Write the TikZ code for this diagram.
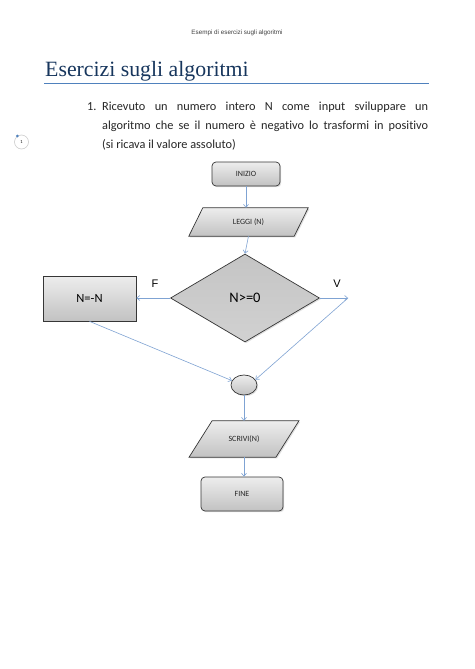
\documentclass[tikz,border=0pt]{standalone}
\usepackage{fontspec}
\setmainfont{Carlito}[Ligatures=NoCommon]
\newfontfamily\arialfont{Liberation Sans}
\newfontfamily\titlefont{Liberation Serif}
\usetikzlibrary{shapes.geometric,arrows.meta,shadows}
\pgfdeclarelayer{background}
\pgfdeclarelayer{paper}
\pgfsetlayers{paper,background,main}
\definecolor{arrowblue}{HTML}{7FA3D3}
\definecolor{rulblue}{HTML}{4F81BD}
\definecolor{titleblue}{HTML}{17365D}
\definecolor{outline}{HTML}{363636}
\definecolor{txtgray}{HTML}{262626}
\begin{document}
\begin{tikzpicture}[x=1pt,y=-1pt,
  flowfill/.style={draw=outline, line width=0.7pt, top color=gray!14, bottom color=gray!48,
    drop shadow={shadow xshift=1.2pt,shadow yshift=-1.2pt,opacity=0.25}},
  flowbox/.style={flowfill, inner sep=0pt, font=\fontsize{8}{9}\selectfont, text=txtgray},
  termbox/.style={flowbox, rectangle, rounded corners=4pt},
  iobox/.style={rectangle, inner sep=0pt, font=\fontsize{8}{9}\selectfont, text=txtgray},
  conn/.style={draw=arrowblue, line width=0.6pt, -{Straight Barb[length=3pt,width=5pt]}},
  bodytext/.style={anchor=base west, inner sep=0pt, font=\fontsize{12.3}{19}\selectfont, text=black!85},
  lab/.style={font=\arialfont\fontsize{11}{12}\selectfont, inner sep=0pt}
]
\useasboundingbox (0,0) rectangle (474,669);
\begin{pgfonlayer}{paper}
  \fill[white] (0,0) rectangle (474,669);
\end{pgfonlayer}

% header and title
\node[font=\arialfont\fontsize{6.3}{7}\selectfont, text=black!75] (header) at (237,33) {Esempi di esercizi sugli algoritmi};
\node[anchor=base west, inner sep=0pt, font=\titlefont\fontsize{21.8}{24}\selectfont, text=titleblue] (title) at (45,77) {Esercizi sugli algoritmi};
\draw[rulblue, line width=0.8pt] (44,83.5) -- (429,83.5);

% margin marker
\node[circle, draw=gray!45, line width=0.5pt, minimum size=14pt, inner sep=0pt, font=\fontsize{4.5}{5}\selectfont] (margin) at (21.5,142) {1};
\fill[rulblue] (margin.125) circle (1.5pt);

% list item
\node[bodytext] (num) at (87,110) {1.};
\node[bodytext] (l1) at (102,110) {\makebox[326pt][s]{Ricevuto un numero intero N come input sviluppare un}};
\node[bodytext] (l2) at (102,129) {\makebox[326pt][s]{algoritmo che se il numero è negativo lo trasformi in positivo}};
\node[bodytext] (l3) at (102,148) {(si ricava il valore assoluto)};

% flowchart
\node[termbox, minimum width=68pt, minimum height=24pt] (inizio) at (246,174) {INIZIO};
\node[iobox, minimum width=105pt, minimum height=28pt] (leggi) at (248.5,222) {LEGGI (N)};
\node[flowbox, diamond, minimum width=149pt, minimum height=88pt, top color=gray!46, bottom color=gray!36,
  font=\fontsize{14.5}{16}\selectfont, text=black] (dec) at (245,298) {N>=0};
\node[flowbox, rectangle, minimum width=93pt, minimum height=45pt, font=\fontsize{12.5}{14}\selectfont, text=black] (nn) at (89.5,298.5) {N=-N};
\node[flowbox, ellipse, minimum width=26pt, minimum height=20pt] (join) at (244,385) {};
\node[iobox, minimum width=86.5pt, minimum height=36pt] (scrivi) at (244,439) {SCRIVI(N)};
\node[termbox, minimum width=82pt, minimum height=34pt] (fine) at (242,494) {FINE};

\begin{pgfonlayer}{background}
  \path[flowfill] ([xshift=7pt]leggi.north west) -- ([xshift=7pt]leggi.north east)
    -- ([xshift=-7pt]leggi.south east) -- ([xshift=-7pt]leggi.south west) -- cycle;
  \path[flowfill] ([xshift=11.5pt]scrivi.north west) -- ([xshift=11.5pt]scrivi.north east)
    -- ([xshift=-11.5pt]scrivi.south east) -- ([xshift=-11.5pt]scrivi.south west) -- cycle;
\end{pgfonlayer}

\node[lab] (flab) at (155,284) {F};
\node[lab] (vlab) at (337,284) {V};
\coordinate (vend) at (348,298);

\draw[conn] (inizio.south) -- (inizio.south |- leggi.north);
\draw[conn] (leggi.south) -- (dec.north);
\draw[conn] (dec.west) -- (nn.east |- dec.west);
\draw[conn] (dec.east) -- (vend);
\draw[conn] (vend) -- (join.25);
\draw[conn] (nn.south) -- (join.160);
\draw[conn] (join.south) -- (join.south |- scrivi.north);
\draw[conn] (scrivi.south) -- (scrivi.south |- fine.north);
\end{tikzpicture}
\end{document}
